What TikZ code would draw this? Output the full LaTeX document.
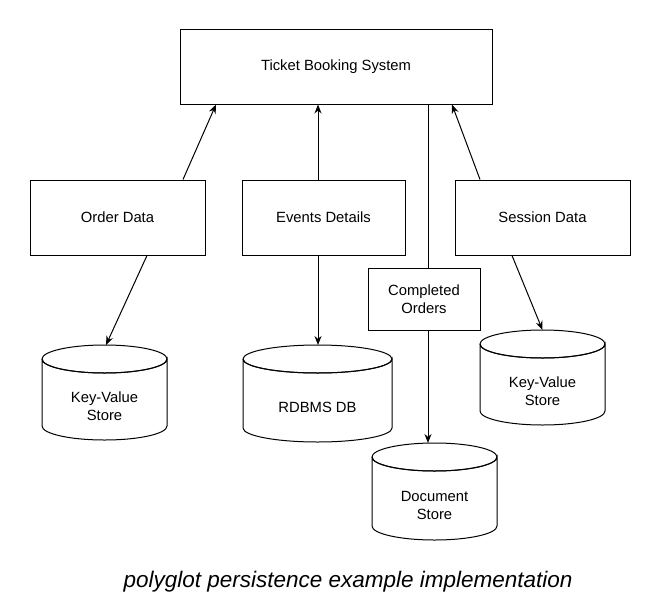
\documentclass[tikz,border=0pt]{standalone}
\usepackage{fontspec}
\setmainfont{Liberation Sans}
\usetikzlibrary{arrows.meta}
\tikzset{
  box/.style={draw, line width=1pt, minimum width=#1, inner sep=0pt, align=center, font=\fontsize{14.8}{18}\selectfont},
  arr/.style={line width=1pt, -{Stealth[length=9pt,width=7pt]}},
}
% cylinder: name, cx, top y, width, height, text
\newcommand\dbcyl[6]{%
  \pgfmathsetmacro\rx{#4/2}
  \draw[line width=1pt, fill=white]
    (#2-\rx,#3+14) -- (#2-\rx,#3+#5-14)
    arc[start angle=180,end angle=360,x radius=\rx,y radius=-14]
    -- (#2+\rx,#3+14)
    arc[start angle=0,end angle=360,x radius=\rx,y radius=14];
  \draw[line width=1pt] (#2-\rx,#3+14) arc[start angle=180,end angle=360,x radius=\rx,y radius=-14];
  \coordinate (#1) at (#2,#3);
  \node[align=center, font=\fontsize{14.8}{18}\selectfont] (#1-t) at (#2,#3+#5/2+14) {#6};
}
\begin{document}
\begin{tikzpicture}[x=1pt,y=-1pt]
\useasboundingbox (0,0) rectangle (650,602);
\node[box=312pt, minimum height=74pt] (tbs) at (336,67) {Ticket Booking System};
\node[box=175pt, minimum height=75pt] (order) at (117.5,217.5) {Order Data};
\node[box=163pt, minimum height=75pt] (events) at (323.5,217.5) {Events Details};
\node[box=175pt, minimum height=75pt] (session) at (542.5,217.5) {Session Data};
\node[box=112pt, minimum height=62pt] (done) at (424,299) {Completed\\Orders};
\dbcyl{kv1}{104.5}{345}{125}{95}{Key-Value\\Store}
\dbcyl{rdb}{317.5}{345}{149}{97}{RDBMS DB}
\dbcyl{doc}{434.5}{443}{125}{97}{Document\\Store}
\dbcyl{kv2}{542.5}{330}{125}{95}{Key-Value\\Store}
\draw[arr] (order.north -| 183,0) -- (tbs.south -| 216,0);
\draw[arr] (events.north -| 318,0) -- (tbs.south -| 318,0);
\draw[arr] (session.north -| 480,0) -- (tbs.south -| 452,0);
\draw[line width=1pt] (tbs.south -| 428,0) -- (done.north -| 428,0);
\draw[arr] (done.south -| 428,0) -- (doc -| 428,0);
\draw[arr] (order.south -| 147,0) -- (kv1 -| 106,0);
\draw[arr] (events.south -| 318,0) -- (rdb -| 318,0);
\draw[arr] (session.south -| 512,0) -- (kv2);
\node[font=\itshape\fontsize{22.5}{26}\selectfont] (cap) at (348,582) {polyglot persistence example implementation};
\end{tikzpicture}
\end{document}
